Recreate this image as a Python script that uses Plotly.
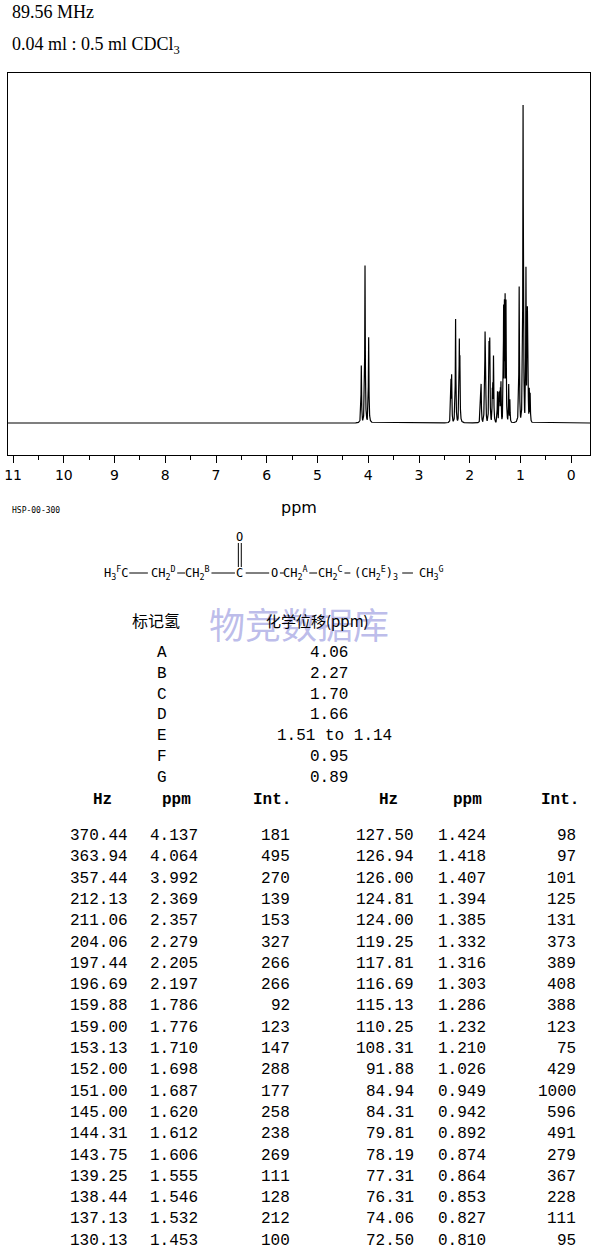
import numpy as np
import plotly.graph_objects as go

title1 = "89.56 MHz"
title2 = "0.04 ml : 0.5 ml CDCl<sub>3</sub>"
hz = [370.44,363.94,357.44,212.13,211.06,204.06,197.44,196.69,159.88,159.00,153.13,152.00,151.00,145.00,144.31,143.75,139.25,138.44,137.13,130.13,
      127.50,126.94,126.00,124.81,124.00,119.25,117.81,116.69,115.13,110.25,108.31,91.88,84.94,84.31,79.81,78.19,77.31,76.31,74.06,72.50]
ppm = [4.137,4.064,3.992,2.369,2.357,2.279,2.205,2.197,1.786,1.776,1.710,1.698,1.687,1.620,1.612,1.606,1.555,1.546,1.532,1.453,
       1.424,1.418,1.407,1.394,1.385,1.332,1.316,1.303,1.286,1.232,1.210,1.026,0.949,0.942,0.892,0.874,0.864,0.853,0.827,0.810]
inten = [181,495,270,139,153,327,266,266,92,123,147,288,177,258,238,269,111,128,212,100,
         98,97,101,125,131,373,389,408,388,123,75,429,1000,596,491,279,367,228,111,95]
labels = ["A","B","C","D","E","F","G"]
shifts = ["4.06","2.27","1.70","1.66","1.51 to 1.14","0.95","0.89"]
xticks = list(range(0, 12))

# spectrum rendered from peak list (Lorentzian line shape, envelope of the lines)
xs = np.arange(-0.37, 11.1, 0.001)
w = 0.006
ys = np.zeros_like(xs)
for p, i in zip(ppm, inten):
    ys = np.maximum(ys, i * w**2 / ((xs - p)**2 + w**2))

fig = go.Figure(go.Scatter(x=xs, y=ys, mode="lines", line=dict(color="black", width=1.2), hoverinfo="skip"))

T, B = 73, 455
H = B - T
def py(y):
    return (B - y) / H

fig.update_layout(
    width=595, height=1247, margin=dict(l=4, r=4, t=T, b=1247 - B),
    paper_bgcolor="white", plot_bgcolor="white", showlegend=False,
    xaxis=dict(range=[11.1, -0.37], tickvals=xticks, ticktext=[str(v) for v in xticks],
               ticks="outside", ticklen=7, tickcolor="black", showgrid=False, zeroline=False,
               showline=True, linecolor="black", mirror=True,
               minor=dict(tickvals=[v + 0.5 for v in range(0, 11)], ticks="outside", ticklen=4, tickcolor="black"),
               tickfont=dict(family="DejaVu Sans", size=14, color="black")),
    yaxis=dict(range=[-100.6, 1100.6], showticklabels=False, ticks="", showgrid=False, zeroline=False,
               showline=True, linecolor="black", mirror=True),
)

ann = []
def txt(x, y, s, size=14, family="Liberation Mono", anchor="left", color="black", bold=False):
    if bold:
        s = "<b>" + s + "</b>"
    ann.append(dict(x=x / 595, y=py(y), xref="paper", yref="paper", text=s, showarrow=False,
                    xanchor=anchor, yanchor="middle", font=dict(family=family, size=size, color=color)))

txt(2, 12, title1, 18, "Liberation Serif")
txt(2, 45, title2, 18, "Liberation Serif")
txt(297, 507, "ppm", 16, "DejaVu Sans", "center")
txt(2, 510, "HSP-00-300", 8, "DejaVu Sans Mono")

# structure
seg = [(111, "H<sub>3</sub><sup>F</sup>C"), (159, "CH<sub>2</sub><sup>D</sup>"), (194, "CH<sub>2</sub><sup>B</sup>"),
       (237, "C"), (272, "O"), (294, "CH<sub>2</sub><sup>A</sup>"), (330, "CH<sub>2</sub><sup>C</sup>"),
       (376, "(CH<sub>2</sub><sup>E</sup>)<sub>3</sub>"), (433, "CH<sub>3</sub><sup>G</sup>")]
for x, s in seg:
    txt(x, 573, s, 12, "DejaVu Sans Mono", "center")
txt(237, 537, "O", 12, "DejaVu Sans Mono", "center")
shapes = []
def line(x0, y0, x1, y1):
    shapes.append(dict(type="line", xref="paper", yref="paper", x0=x0 / 595, x1=x1 / 595, y0=py(y0), y1=py(y1),
                       line=dict(color="black", width=1)))
for a, b in [(124, 143), (173, 181), (208, 232), (243, 267), (278, 282), (308, 316), (344, 350), (403, 414)]:
    line(a, 573, b, 573)
line(235.5, 543, 235.5, 567)
line(238.5, 543, 238.5, 567)

txt(298, 623, "物竞数据库", 36, "Noto Sans CJK SC", "center", "rgba(160,160,225,0.7)")
txt(125, 620, "标记氢", 16, "Noto Sans CJK SC")
txt(262, 620, "化学位移(ppm)", 15, "Noto Sans CJK SC")
for k, (l, s) in enumerate(zip(labels, shifts)):
    y = 653 + k * 20.8
    txt(150, y, l, 16)
    if " to " in s:
        txt(273, y, s, 16)
    else:
        txt(350, y, s, 16, anchor="right")

for x, h in [(97, "Hz"), (172, "ppm"), (270, "Int."), (389, "Hz"), (470, "ppm"), (564, "Int.")]:
    txt(x, 800, h, 16, anchor="center", bold=True)
n = 20
for r in range(n):
    y = 836 + r * 21.3
    for off, col in [(0, 0), (n, 1)]:
        i = r + off
        xh, xp, xi = [(125, 196, 290), (417, 491, 583)][col]
        txt(xh, y, f"{hz[i]:.2f}", 16, anchor="right")
        txt(xp, y, f"{ppm[i]:.3f}", 16, anchor="right")
        txt(xi, y, str(inten[i]), 16, anchor="right")

fig.update_layout(annotations=ann, shapes=shapes)
fig.write_html("out.html", config={"displayModeBar": False},
               post_script="document.body.style.margin='0';document.body.style.overflow='hidden';")
